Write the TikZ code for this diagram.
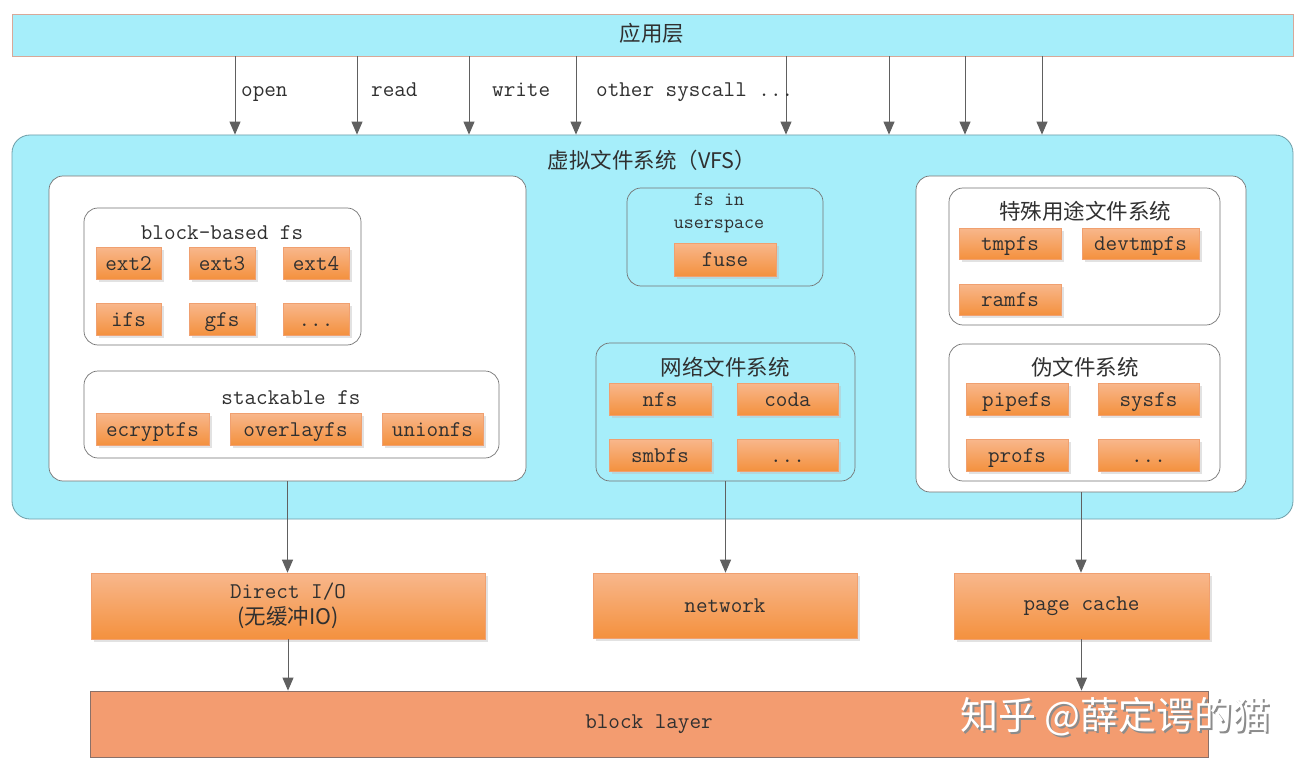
\documentclass[tikz,border=0pt]{standalone}
\usepackage{fontspec}
\newfontfamily\cjk{Noto Sans CJK SC}
\usetikzlibrary{arrows.meta,shadows}
\definecolor{cyanbg}{HTML}{A6EEFA}
\definecolor{topbd}{HTML}{D8A898}
\definecolor{vfsbd}{HTML}{6E9EA8}
\definecolor{ctbd}{HTML}{747474}
\definecolor{orgtop}{HTML}{F8B78C}
\definecolor{orgbot}{HTML}{F4913E}
\definecolor{orgbd}{HTML}{F0A070}
\definecolor{blkfill}{HTML}{F39C70}
\definecolor{blkbd}{HTML}{8A7068}
\definecolor{arrgray}{HTML}{606060}
\definecolor{txt}{HTML}{303030}
\newcommand\mytt{\fontsize{22.5}{26}\selectfont\ttfamily}
\newcommand\mycj{\fontsize{21.5}{26}\selectfont\cjk}
\tikzset{
  lbl/.style={inner sep=0pt, text=txt, font=\mytt},
  cjlbl/.style={inner sep=0pt, text=txt, font=\mycj},
  ob/.style={draw=orgbd, line width=0.6pt, top color=orgtop, bottom color=orgbot,
    inner sep=0pt, text=txt, font=\mytt, text height=15pt, text depth=1pt,
    drop shadow={shadow xshift=2.5pt, shadow yshift=-2.5pt, fill=black!25, opacity=.45}},
  big/.style={draw=orgbd, line width=0.6pt, top color=orgtop, bottom color=orgbot,
    inner sep=0pt, text=txt, font=\mytt, align=center,
    drop shadow={shadow xshift=2.5pt, shadow yshift=-2.5pt, fill=black!25, opacity=.45}},
  ct/.style={draw=ctbd, line width=0.7pt, rounded corners=14pt, inner sep=0pt},
  arr/.style={draw=arrgray, line width=1pt, -{Triangle[length=13pt,width=11pt]}, arrgray}
}
\begin{document}
\begin{tikzpicture}[x=1pt,y=-1pt]
\useasboundingbox (0,0) rectangle (1310,773);
\fill[white] (0,0) rectangle (1310,773);

% application layer
\node[draw=topbd, fill=cyanbg, line width=0.8pt, minimum width=1281pt, minimum height=42pt, inner sep=0pt] (app) at (652.5,35) {};
\node[cjlbl] (appt) at (652,33) {应用层};

% VFS
\node[draw=vfsbd, fill=cyanbg, line width=0.8pt, rounded corners=18pt, minimum width=1281pt, minimum height=384pt, inner sep=0pt] (vfs) at (652.5,327) {};
\node[cjlbl] (vfst) at (652,160) {虚拟文件系统（VFS）};

% syscall arrows
\foreach \x [count=\i] in {235,357,469,576,786,889,965,1042} {
  \coordinate (c\i) at (\x,0);
  \draw[arr] (app.south -| c\i) -- (vfs.north -| c\i);
}
\node[lbl, anchor=base west] (lopen) at (241,97) {open};
\node[lbl, anchor=base west] (lread) at (371,97) {read};
\node[lbl, anchor=base west] (lwrite) at (492,97) {write};
\node[lbl, anchor=base west] (lother) at (596,97) {other syscall ...};

% left white container
\node[ct, fill=white, minimum width=477pt, minimum height=305pt] (left) at (287.5,328.5) {};
\node[ct, fill=white, minimum width=277pt, minimum height=137pt] (bbfs) at (222.5,276.5) {};
\node[lbl, anchor=base] (bbfst) at (222,240) {block-based fs};
\node[ob, minimum width=65pt, minimum height=32pt] (ext2) at (128.5,263) {ext2};
\node[ob, minimum width=66pt, minimum height=32pt] (ext3) at (222,263) {ext3};
\node[ob, minimum width=66pt, minimum height=32pt] (ext4) at (316,263) {ext4};
\node[ob, minimum width=65pt, minimum height=32pt] (ifs) at (128.5,319) {ifs};
\node[ob, minimum width=66pt, minimum height=32pt] (gfs) at (222,319) {gfs};
\node[ob, minimum width=66pt, minimum height=32pt] (bdots) at (316,319) {...};

\node[ct, fill=white, minimum width=415pt, minimum height=87pt] (stk) at (291.5,414.5) {};
\node[lbl, anchor=base] (stkt) at (291,404) {stackable fs};
\node[ob, minimum width=113pt, minimum height=32pt] (ecr) at (152.5,429) {ecryptfs};
\node[ob, minimum width=131pt, minimum height=32pt] (ovl) at (295.5,429) {overlayfs};
\node[ob, minimum width=101pt, minimum height=32pt] (uni) at (432.5,429) {unionfs};

% fuse
\node[ct, minimum width=196pt, minimum height=98pt] (fusec) at (725,237) {};
\node[lbl, align=center, font=\fontsize{19.5}{23}\selectfont\ttfamily] (fuset) at (719,213) {fs in\\userspace};
\node[ob, minimum width=102pt, minimum height=33pt] (fuse) at (725,259.5) {fuse};

% network fs
\node[ct, minimum width=259pt, minimum height=138pt] (netc) at (725.5,412) {};
\node[cjlbl] (netct) at (725,367) {网络文件系统};
\node[ob, minimum width=102pt, minimum height=32pt] (nfs) at (660,399) {nfs};
\node[ob, minimum width=101pt, minimum height=32pt] (coda) at (787.5,399) {coda};
\node[ob, minimum width=102pt, minimum height=32pt] (smb) at (660,455) {smbfs};
\node[ob, minimum width=101pt, minimum height=32pt] (ndots) at (787.5,455) {...};

% right white container
\node[ct, fill=white, minimum width=330pt, minimum height=316pt] (right) at (1081,334) {};
\node[ct, fill=white, minimum width=271pt, minimum height=137pt] (spc) at (1084.5,256.5) {};
\node[cjlbl] (spct) at (1085,211) {特殊用途文件系统};
\node[ob, minimum width=102pt, minimum height=31pt] (tmp) at (1010,243.5) {tmpfs};
\node[ob, minimum width=117pt, minimum height=31pt] (dev) at (1140.5,243.5) {devtmpfs};
\node[ob, minimum width=102pt, minimum height=31pt] (ram) at (1010,299.5) {ramfs};

\node[ct, fill=white, minimum width=271pt, minimum height=137pt] (pse) at (1084.5,412.5) {};
\node[cjlbl] (pset) at (1085,367) {伪文件系统};
\node[ob, minimum width=102pt, minimum height=32pt] (pipe) at (1017,399) {pipefs};
\node[ob, minimum width=101pt, minimum height=32pt] (sys) at (1148.5,399) {sysfs};
\node[ob, minimum width=102pt, minimum height=32pt] (pro) at (1017,455) {profs};
\node[ob, minimum width=101pt, minimum height=32pt] (pdots) at (1148.5,455) {...};

% lower layers
\node[big, minimum width=394pt, minimum height=66pt] (dio) at (288,606) {Direct I/O\\{\mycj (无缓冲IO)}};
\node[big, minimum width=264pt, minimum height=65pt] (nw) at (725,605.5) {network};
\node[big, minimum width=255pt, minimum height=66pt] (pc) at (1081.5,606) {page cache};
\node[draw=blkbd, fill=blkfill, line width=0.8pt, minimum width=1118pt, minimum height=66pt, inner sep=0pt, text=txt, font=\mytt] (blk) at (649,724) {block layer};

\draw[arr] (left.south) -- (left.south |- dio.north);
\draw[arr] (netc.south) -- (netc.south |- nw.north);
\draw[arr] (right.south) -- (right.south |- pc.north);
\draw[arr] (dio.south) -- (dio.south |- blk.north);
\draw[arr] (pc.south) -- (pc.south |- blk.north);

% watermark
\node[inner sep=0pt, text=black!45, font=\fontsize{38}{42}\selectfont\cjk] (wms) at (1117.5,719) {知乎 @薛定谔的猫};
\node[inner sep=0pt, text=white, font=\fontsize{38}{42}\selectfont\cjk] (wm) at (1115.5,717) {知乎 @薛定谔的猫};
\end{tikzpicture}
\end{document}
